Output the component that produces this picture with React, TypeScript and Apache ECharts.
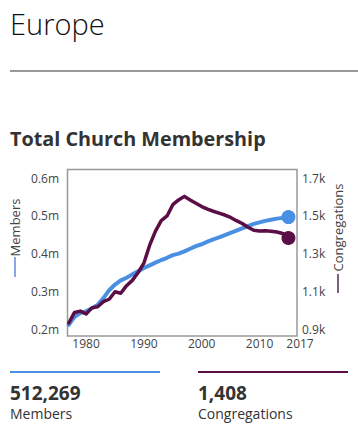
import React, { useEffect, useRef } from "react";
import * as echarts from "echarts";

const years = [
  1977, 1978, 1979, 1980, 1981, 1982, 1983, 1984, 1985, 1986, 1987, 1988, 1989,
  1990, 1991, 1992, 1993, 1994, 1995, 1996, 1997, 1998, 1999, 2000, 2001, 2002,
  2003, 2004, 2005, 2006, 2007, 2008, 2009, 2010, 2011, 2012, 2013, 2014, 2015,
];
const members = [
  211000, 232000, 242000, 247000, 255000, 264000, 282000, 303000, 318000, 329000,
  336000, 345000, 353000, 362000, 369000, 376000, 383000, 389000, 396000, 400000,
  406000, 413000, 420000, 425000, 432000, 438000, 443000, 449000, 455000, 461000,
  467000, 473000, 479000, 483000, 487000, 490000, 493000, 495000, 497000,
];
const congregations = [
  932, 988, 995, 980, 1012, 1018, 1045, 1058, 1098, 1090, 1130, 1158, 1200, 1250,
  1345, 1420, 1475, 1500, 1560, 1585, 1604, 1585, 1568, 1550, 1536, 1525, 1515,
  1505, 1492, 1475, 1460, 1440, 1424, 1420, 1421, 1419, 1415, 1407, 1383,
];
const xTickLabels = [1980, 1990, 2000, 2010, 2017];
const regionName = "Europe";
const chartTitle = "Total Church Membership";
const totalMembers = "512,269";
const totalCongregations = "1,408";

const BLUE = "#4a90e2";
const PURPLE = "#5b0d45";
const FONT = "'Open Sans', sans-serif";

export default function App() {
  const ref = useRef<HTMLDivElement>(null);
  useEffect(() => {
    if (!ref.current) return;
    const chart = echarts.init(ref.current, null, { renderer: "svg" });
    const memPairs = years.map((y, i) => [y, members[i]]);
    const conPairs = years.map((y, i) => [y, congregations[i]]);
    const last = years.length - 1;
    chart.setOption({
      animation: false,
      textStyle: { fontFamily: FONT },
      grid: { left: 67, right: 58, top: 178.3, bottom: 103, containLabel: false },
      xAxis: {
        type: "value",
        min: 1976.7,
        max: 2017,
        axisLine: { show: false },
        axisTick: { show: false },
        splitLine: { show: false },
        axisLabel: {
          customValues: xTickLabels,
          color: "#444",
          fontSize: 12,
          fontFamily: FONT,
          margin: 8,
          formatter: (v: number) => String(v),
        },
      },
      yAxis: [
        {
          type: "value",
          min: 200000,
          max: 600000,
          interval: 100000,
          axisLine: { show: false },
          axisTick: { show: false },
          splitLine: { show: false },
          axisLabel: {
            color: "#444",
            fontSize: 12,
            fontFamily: FONT,
            margin: 8,
            formatter: (v: number) => (v / 1e6).toFixed(1) + "m",
          },
        },
        {
          type: "value",
          position: "right",
          min: 900,
          max: 1700,
          interval: 200,
          axisLine: { show: false },
          axisTick: { show: false },
          splitLine: { show: false },
          axisLabel: {
            color: "#444",
            fontSize: 12,
            fontFamily: FONT,
            margin: 2,
            formatter: (v: number) => (v / 1000).toFixed(1) + "k",
          },
        },
      ],
      graphic: [
        {
          type: "text",
          x: 10,
          y: 23.5,
          style: { text: regionName, font: `300 29px ${FONT}`, fill: "#111", align: "left", verticalAlign: "middle" },
        },
        { type: "rect", shape: { x: 10, y: 70, width: 348, height: 2 }, style: { fill: "#999" } },
        {
          type: "text",
          x: 10,
          y: 138.5,
          style: { text: chartTitle, font: `bold 19.8px ${FONT}`, fill: "#333", align: "left", verticalAlign: "middle" },
        },
        {
          type: "rect",
          z: 0,
          shape: { x: 67.5, y: 169.5, width: 229.5, height: 166.5 },
          style: { fill: "none", stroke: "#999", lineWidth: 1.5 },
        },
        {
          type: "text",
          x: 15,
          y: 227.5,
          rotation: Math.PI / 2,
          style: { text: "Members", font: `13px ${FONT}`, fill: "#444", align: "center", verticalAlign: "middle" },
        },
        { type: "rect", shape: { x: 14.3, y: 257, width: 1.4, height: 20 }, style: { fill: "#5a7fe0" } },
        {
          type: "text",
          x: 338,
          y: 227.5,
          rotation: Math.PI / 2,
          style: { text: "Congregations", font: `13px ${FONT}`, fill: "#444", align: "center", verticalAlign: "middle" },
        },
        { type: "rect", shape: { x: 337.3, y: 274, width: 1.4, height: 19 }, style: { fill: "#4b1650" } },
        { type: "rect", shape: { x: 10, y: 371, width: 150, height: 2 }, style: { fill: BLUE } },
        { type: "rect", shape: { x: 198, y: 371, width: 150, height: 2 }, style: { fill: PURPLE } },
        {
          type: "text",
          x: 10,
          y: 392.5,
          style: { text: totalMembers, font: `bold 19px ${FONT}`, lineHeight: 19, fill: "#333", align: "left", verticalAlign: "middle" },
        },
        {
          type: "text",
          x: 10,
          y: 413.5,
          style: { text: "Members", font: `14px ${FONT}`, lineHeight: 15, fill: "#333", align: "left", verticalAlign: "middle" },
        },
        {
          type: "text",
          x: 198,
          y: 392.5,
          style: { text: totalCongregations, font: `bold 19px ${FONT}`, lineHeight: 19, fill: "#333", align: "left", verticalAlign: "middle" },
        },
        {
          type: "text",
          x: 198,
          y: 413.5,
          style: { text: "Congregations", font: `14px ${FONT}`, lineHeight: 15, fill: "#333", align: "left", verticalAlign: "middle" },
        },
      ],
      series: [
        {
          name: "Members",
          type: "line",
          yAxisIndex: 0,
          data: memPairs,
          symbol: "none",
          z: 3,
          lineStyle: { color: BLUE, width: 4, cap: "round", join: "round" },
        },
        {
          name: "Congregations",
          type: "line",
          yAxisIndex: 1,
          data: conPairs,
          symbol: "none",
          z: 4,
          lineStyle: { color: PURPLE, width: 3.5, cap: "round", join: "round" },
        },
        {
          type: "scatter",
          yAxisIndex: 0,
          data: [memPairs[last]],
          symbol: "circle",
          symbolSize: 14,
          z: 5,
          itemStyle: { color: BLUE, opacity: 1 },
        },
        {
          type: "scatter",
          yAxisIndex: 1,
          data: [conPairs[last]],
          symbol: "circle",
          symbolSize: 14,
          z: 5,
          itemStyle: { color: PURPLE, opacity: 1 },
        },
      ],
    });
    return () => chart.dispose();
  }, []);
  return (
    <div
      ref={ref}
      style={{ position: "absolute", left: 0, top: 0, width: 358, height: 432 }}
    />
  );
}
